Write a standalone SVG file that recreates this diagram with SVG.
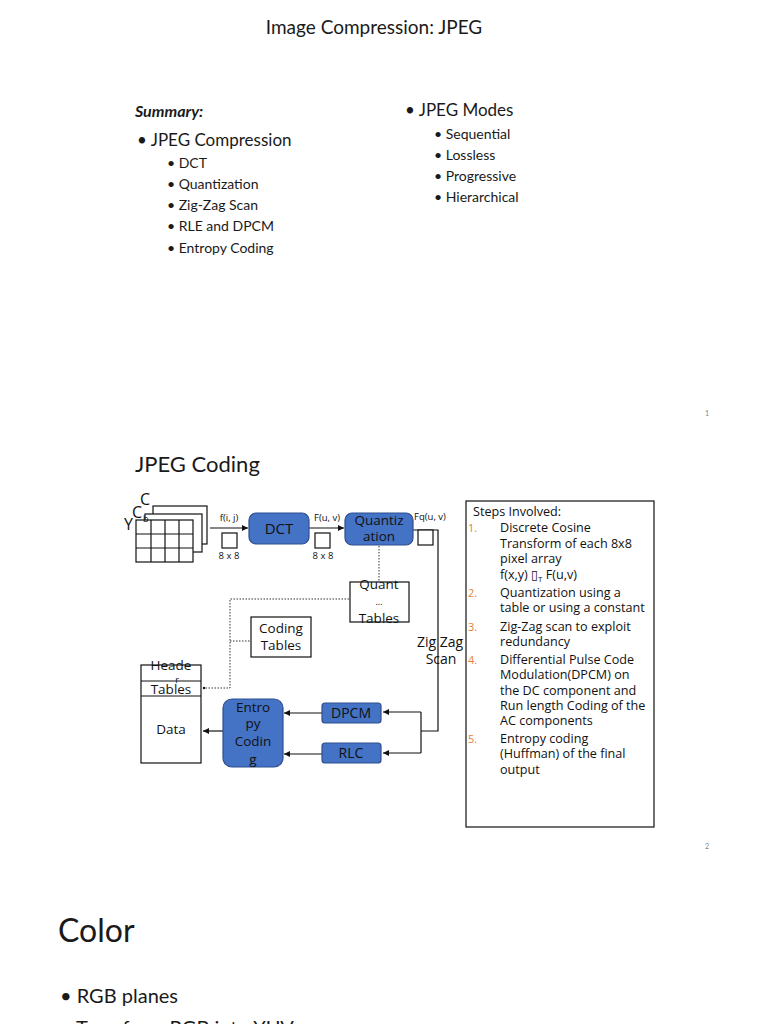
<svg xmlns="http://www.w3.org/2000/svg" width="768" height="1024" viewBox="0 0 768 1024">
<defs>
<style>
.cal{font-family:Lato,"Open Sans","Liberation Sans",sans-serif;fill:#1a1a1a}
.cm{font-family:"Open Sans","DejaVu Sans",sans-serif;fill:#111}
.box{fill:#fff;stroke:#111;stroke-width:1.2}
.blue{fill:#4472C4;stroke:#2F4F8F;stroke-width:1.2}
.ln{fill:none;stroke:#111;stroke-width:1.2}
.dot{fill:none;stroke:#333;stroke-width:1;stroke-dasharray:1.5 1.5}
.num{fill:#ED7D31;font-family:"Open Sans",sans-serif;font-size:11px}
.st{font-size:12.6px}
.pg{font-family:Lato,sans-serif;font-size:7px;fill:#888}
</style>
<marker id="ah" viewBox="0 0 6 6" refX="6" refY="3" markerWidth="5" markerHeight="5" orient="auto"><path d="M0,0 L6,3 L0,6 z" fill="#111"/></marker>
</defs>
<rect width="768" height="1024" fill="#fff"/>

<!-- Slide 1 -->
<text class="cal" x="374" y="34" font-size="19" text-anchor="middle">Image Compression: JPEG</text>
<text class="cal" x="135" y="117" font-size="16" font-weight="bold" font-style="italic">Summary:</text>
<text class="cal" x="137" y="146" font-size="17">• JPEG Compression</text>
<g class="cal" font-size="14">
<text x="167" y="168">•  DCT</text>
<text x="167" y="189">•  Quantization</text>
<text x="167" y="210">•  Zig-Zag Scan</text>
<text x="167" y="231">•  RLE and DPCM</text>
<text x="167" y="253">•  Entropy Coding</text>
</g>
<text class="cal" x="405" y="116" font-size="17">• JPEG Modes</text>
<g class="cal" font-size="14">
<text x="434" y="139">•  Sequential</text>
<text x="434" y="160">•  Lossless</text>
<text x="434" y="181">•  Progressive</text>
<text x="434" y="202">•  Hierarchical</text>
</g>
<text class="pg" x="705" y="416">1</text>

<!-- Slide 2 -->
<text class="cal" x="135" y="472" font-size="22">JPEG Coding</text>

<g id="image-stack">
<rect x="153" y="506" width="54" height="38" class="box"/>
<rect x="145" y="514" width="57" height="38" class="box"/>
<rect x="136" y="520" width="57" height="42" class="box"/>
<path d="M151,520 V562 M165,520 V562 M179,520 V562 M136,534 H193 M136,548 H193" class="ln"/>
<text class="cm" x="140" y="505" font-size="16">C</text>
<text class="cm" x="132" y="518" font-size="16">C</text>
<text class="cm" x="143" y="522" font-size="9">b</text>
<text class="cm" x="124" y="530" font-size="16">Y</text>
</g>

<g id="connectors">
<line x1="210" y1="528" x2="248" y2="528" class="ln" marker-end="url(#ah)"/>
<line x1="309" y1="528" x2="344" y2="528" class="ln" marker-end="url(#ah)"/>
<polyline points="413,530 438,530 438,731 421,731" class="ln"/>
<polyline points="421,712 421,753" class="ln"/>
<line x1="421" y1="712" x2="383" y2="712" class="ln" marker-end="url(#ah)"/>
<line x1="421" y1="753" x2="383" y2="753" class="ln" marker-end="url(#ah)"/>
<line x1="322" y1="713" x2="284" y2="713" class="ln" marker-end="url(#ah)"/>
<line x1="322" y1="754" x2="284" y2="754" class="ln" marker-end="url(#ah)"/>
<line x1="223" y1="731" x2="203" y2="731" class="ln" marker-end="url(#ah)"/>
<line x1="379" y1="546" x2="379" y2="582" class="dot"/>
<polyline points="349,599 230,599 230,688 204,688" class="dot"/>
<line x1="230" y1="641" x2="251" y2="641" class="dot"/>
<circle cx="204" cy="688" r="1.2" fill="#111"/>
</g>

<g id="labels" class="cm">
<text x="229" y="521" font-size="9.5" text-anchor="middle">f(i, j)</text>
<rect x="222" y="533" width="15" height="15" class="box"/>
<text x="229" y="559" font-size="9.5" text-anchor="middle">8 x 8</text>
<text x="327" y="521" font-size="9.5" text-anchor="middle">F(u, v)</text>
<rect x="315" y="533" width="15" height="15" class="box"/>
<text x="323" y="559" font-size="9.5" text-anchor="middle">8 x 8</text>
<text x="430" y="520" font-size="9.5" text-anchor="middle">Fq(u, v)</text>
<rect x="418" y="530" width="15" height="15" class="box"/>
<text x="440" y="647" font-size="14" text-anchor="middle">Zig Zag</text>
<text x="441" y="664" font-size="14" text-anchor="middle">Scan</text>
</g>

<g id="dct">
<rect x="249" y="513" width="60" height="31" rx="7" class="blue"/>
<text class="cm" x="279" y="534" font-size="15" text-anchor="middle">DCT</text>
</g>

<g id="quantization">
<rect x="345" y="513" width="68" height="32" rx="7" class="blue"/>
<text class="cm" x="379" y="525" font-size="13.5" text-anchor="middle">Quantiz</text>
<text class="cm" x="379" y="541" font-size="13.5" text-anchor="middle">ation</text>
</g>

<g id="quant-tables">
<rect x="350" y="582" width="59" height="40" class="box"/>
<text class="cm" x="379" y="589" font-size="13.5" text-anchor="middle">Quant</text>
<text class="cm" x="379" y="605" font-size="9" text-anchor="middle">...</text>
<text class="cm" x="379" y="623" font-size="13.5" text-anchor="middle">Tables</text>
</g>

<g id="coding-tables">
<rect x="251" y="617" width="60" height="40" class="box"/>
<text class="cm" x="281" y="633" font-size="13.5" text-anchor="middle">Coding</text>
<text class="cm" x="281" y="650" font-size="13.5" text-anchor="middle">Tables</text>
</g>

<g id="file-box">
<rect x="141" y="665" width="60" height="98" class="box"/>
<line x1="141" y1="681" x2="201" y2="681" class="ln"/>
<line x1="141" y1="696" x2="201" y2="696" class="ln"/>
<text class="cm" x="171" y="670" font-size="13.5" text-anchor="middle">Heade</text>
<text class="cm" x="177" y="683" font-size="9" text-anchor="middle">r</text>
<text class="cm" x="171" y="694" font-size="13.5" text-anchor="middle">Tables</text>
<text class="cm" x="171" y="734" font-size="13.5" text-anchor="middle">Data</text>
</g>

<g id="entropy">
<rect x="223" y="699" width="60" height="68" rx="9" class="blue"/>
<text class="cm" x="253" y="712" font-size="13.5" text-anchor="middle">Entro</text>
<text class="cm" x="253" y="728" font-size="13.5" text-anchor="middle">py</text>
<text class="cm" x="253" y="746" font-size="13.5" text-anchor="middle">Codin</text>
<text class="cm" x="253" y="764" font-size="13.5" text-anchor="middle">g</text>
</g>

<g id="dpcm">
<rect x="322" y="703" width="59" height="20" rx="3" class="blue"/>
<text class="cm" x="351" y="718" font-size="14" text-anchor="middle">DPCM</text>
</g>

<g id="rlc">
<rect x="322" y="743" width="59" height="20" rx="3" class="blue"/>
<text class="cm" x="351" y="758" font-size="14" text-anchor="middle">RLC</text>
</g>

<g id="steps">
<rect x="466" y="501" width="188" height="326" class="box"/>
<g class="cm st">
<text x="473" y="516">Steps Involved:</text>
<text x="500" y="532">Discrete Cosine</text>
<text x="500" y="548">Transform of each 8x8</text>
<text x="500" y="563">pixel array</text>
<text x="500" y="579">f(x,y) ▯<tspan font-size="8" dy="3">T</tspan><tspan dy="-3"> F(u,v)</tspan></text>
<text x="500" y="597">Quantization using a</text>
<text x="500" y="612">table or using a constant</text>
<text x="500" y="631">Zig-Zag scan to exploit</text>
<text x="500" y="646">redundancy</text>
<text x="500" y="664">Differential Pulse Code</text>
<text x="500" y="679">Modulation(DPCM) on</text>
<text x="500" y="695">the DC component and</text>
<text x="500" y="710">Run length Coding of the</text>
<text x="500" y="725">AC components</text>
<text x="500" y="743">Entropy coding</text>
<text x="500" y="758">(Huffman) of the final</text>
<text x="500" y="774">output</text>
</g>
<text class="num" x="468" y="532">1.</text>
<text class="num" x="468" y="597">2.</text>
<text class="num" x="468" y="631">3.</text>
<text class="num" x="468" y="664">4.</text>
<text class="num" x="468" y="743">5.</text>
</g>
<text class="pg" x="705" y="849">2</text>

<!-- Slide 3 -->
<text class="cal" x="58" y="942" font-size="32">Color</text>
<text class="cal" x="60" y="1003" font-size="20">• RGB planes</text>
<text class="cal" x="60" y="1035" font-size="20">• Transform RGB into YUV</text>
</svg>
